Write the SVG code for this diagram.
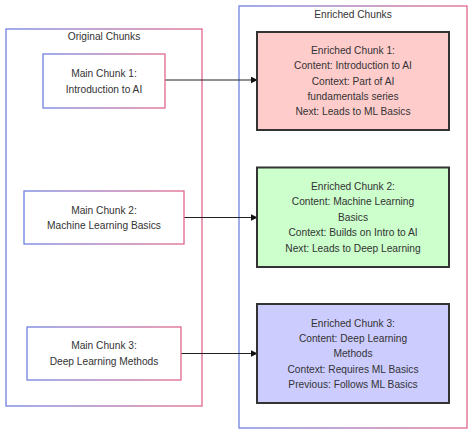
<svg xmlns="http://www.w3.org/2000/svg" width="474" height="436" viewBox="0 0 474 436">
<defs>
<linearGradient id="g" x1="0" y1="0" x2="1" y2="0" gradientUnits="objectBoundingBox">
<stop offset="0" stop-color="#6f80e0"/>
<stop offset="1" stop-color="#e0688a"/>
</linearGradient>
<marker id="arr" viewBox="0 0 10 10" refX="9" refY="5" markerWidth="7" markerHeight="7" markerUnits="userSpaceOnUse" orient="auto">
<path d="M0,0 L10,5 L0,10 z" fill="#111"/>
</marker>
</defs>
<style>
text{font-family:"Liberation Sans",Arial,sans-serif;font-size:10.2px;fill:#333;text-anchor:middle;dominant-baseline:central}
.cl{fill:none;stroke:url(#g);stroke-width:1.3}
.nd{fill:#fff;stroke:url(#g);stroke-width:1.3}
.en{stroke:#333;stroke-width:2}
.ed{stroke:#222;stroke-width:1;fill:none}
</style>
<rect x="0" y="0" width="474" height="436" fill="#fff"/>
<g id="cluster-original">
<rect class="cl" x="6" y="29" width="196" height="377"/>
<text x="104" y="36.5">Original Chunks</text>
</g>
<g id="cluster-enriched">
<rect class="cl" x="239" y="6" width="228" height="422"/>
<text x="353" y="14">Enriched Chunks</text>
</g>
<g id="edges">
<path class="ed" d="M165,80 L257,80" marker-end="url(#arr)"/>
<path class="ed" d="M184,217.5 L257,217.5" marker-end="url(#arr)"/>
<path class="ed" d="M181,353.5 L257,353.5" marker-end="url(#arr)"/>
</g>
<g id="main1">
<rect class="nd" x="43" y="54" width="122" height="54"/>
<text x="104" y="73">Main Chunk 1:</text>
<text x="104" y="89">Introduction to AI</text>
</g>
<g id="main2">
<rect class="nd" x="24" y="191" width="160" height="53"/>
<text x="104" y="210">Main Chunk 2:</text>
<text x="104" y="225">Machine Learning Basics</text>
</g>
<g id="main3">
<rect class="nd" x="27" y="327" width="154" height="53"/>
<text x="104" y="345.5">Main Chunk 3:</text>
<text x="104" y="361">Deep Learning Methods</text>
</g>
<g id="enriched1">
<rect class="en" x="257" y="32" width="192" height="98" fill="#ffcccc"/>
<text x="353" y="50.5">Enriched Chunk 1:</text>
<text x="353" y="65.5">Content: Introduction to AI</text>
<text x="353" y="81">Context: Part of AI</text>
<text x="353" y="96.5">fundamentals series</text>
<text x="353" y="111.5">Next: Leads to ML Basics</text>
</g>
<g id="enriched2">
<rect class="en" x="257" y="167.5" width="192" height="99.5" fill="#ccffcc"/>
<text x="353" y="186">Enriched Chunk 2:</text>
<text x="353" y="201.5">Content: Machine Learning</text>
<text x="353" y="217">Basics</text>
<text x="353" y="232.5">Context: Builds on Intro to AI</text>
<text x="353" y="248">Next: Leads to Deep Learning</text>
</g>
<g id="enriched3">
<rect class="en" x="257" y="304" width="192" height="99" fill="#ccccff"/>
<text x="353" y="323">Enriched Chunk 3:</text>
<text x="353" y="338">Content: Deep Learning</text>
<text x="353" y="353.5">Methods</text>
<text x="353" y="369">Context: Requires ML Basics</text>
<text x="353" y="384.5">Previous: Follows ML Basics</text>
</g>
</svg>
